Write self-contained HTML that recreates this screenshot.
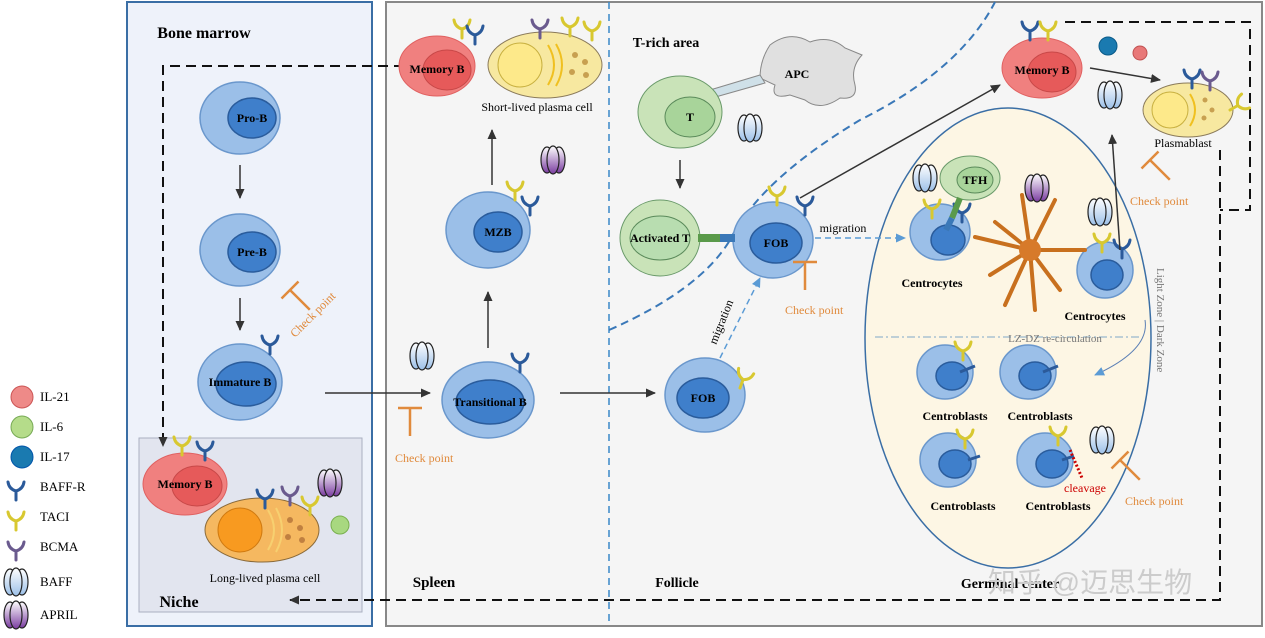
<!DOCTYPE html>
<html><head><meta charset="utf-8"><style>
body{margin:0;background:#fff}
svg{display:block;font-family:"Liberation Serif",serif}
.b{font-weight:bold;font-size:12px;text-anchor:middle}
.o{fill:#e08a3c;font-size:12px}
</style></head><body>
<svg width="1265" height="638" viewBox="0 0 1265 638">
<defs>
<marker id="ar" markerUnits="userSpaceOnUse" markerWidth="10" markerHeight="10" refX="9" refY="5" orient="auto"><path d="M0,0.5 L10,5 L0,9.5z" fill="#333"/></marker>
<marker id="ab" markerUnits="userSpaceOnUse" markerWidth="10" markerHeight="10" refX="9" refY="5" orient="auto"><path d="M0,0.5 L10,5 L0,9.5z" fill="#5b9bd5"/></marker>
<g id="rB"><path d="M0,0 V-9 M0,-9 Q-7,-11 -8,-18 M0,-9 Q7,-11 8,-18" stroke="#2b5a9a" stroke-width="3" fill="none" stroke-linecap="round"/></g>
<g id="rT"><path d="M0,0 V-9 M0,-9 Q-7,-11 -8,-18 M0,-9 Q7,-11 8,-18" stroke="#d8c830" stroke-width="3" fill="none" stroke-linecap="round"/></g>
<g id="rM"><path d="M0,0 V-9 M0,-9 Q-7,-11 -8,-18 M0,-9 Q7,-11 8,-18" stroke="#6a5a8e" stroke-width="3" fill="none" stroke-linecap="round"/></g>
<linearGradient id="gb" x1="0" y1="0" x2="0" y2="1"><stop offset="0" stop-color="#fff"/><stop offset="1" stop-color="#9cc0e8"/></linearGradient>
<linearGradient id="gp" x1="0" y1="0" x2="0" y2="1"><stop offset="0" stop-color="#fff"/><stop offset="1" stop-color="#7a3ca0"/></linearGradient>
<g id="baff" stroke="#222" stroke-width="1.2" fill="url(#gb)"><ellipse cx="-6" cy="0" rx="6" ry="13"/><ellipse cx="6" cy="0" rx="6" ry="13"/><ellipse cx="0" cy="0" rx="6" ry="14"/></g>
<g id="april" stroke="#222" stroke-width="1.2" fill="url(#gp)"><ellipse cx="-6" cy="0" rx="6" ry="13"/><ellipse cx="6" cy="0" rx="6" ry="13"/><ellipse cx="0" cy="0" rx="6" ry="14"/></g>
<g id="cp"><path d="M-12,0 H12 M0,0 V28" stroke="#e08a3c" stroke-width="2.5" fill="none"/></g>
</defs>

<rect x="127" y="2" width="245" height="624" fill="#eef2fa" stroke="#3a6ea5" stroke-width="2"/>
<rect x="139" y="438" width="223" height="174" fill="#e2e5ef" stroke="#aab0c0"/>
<rect x="386" y="2" width="876" height="624" fill="#f5f5f5" stroke="#888" stroke-width="2"/>
<line x1="609" y1="2" x2="609" y2="626" stroke="#3a88c8" stroke-width="1.5" stroke-dasharray="7,5"/>
<path d="M609,330 Q700,290 730,240 Q760,180 860,120 Q960,70 995,2" stroke="#3a78b8" stroke-width="2" stroke-dasharray="8,5" fill="none"/>
<ellipse cx="1008" cy="338" rx="143" ry="230" fill="#fdf6e4" stroke="#3a6ea5" stroke-width="1.5"/>
<line x1="875" y1="337" x2="1142" y2="337" stroke="#7fa8c8" stroke-dasharray="8,3,2,3"/>

<path d="M420,66 H163 V446" stroke="#111" stroke-width="2" stroke-dasharray="10,6" fill="none" marker-end="url(#ar)"/>
<path d="M1065,22 H1250 V210 H1220" stroke="#111" stroke-width="2" stroke-dasharray="10,6" fill="none"/>
<path d="M1220,150 V600 H290" stroke="#111" stroke-width="2" stroke-dasharray="10,6" fill="none" marker-end="url(#ar)"/>

<text x="204" y="38" style="font-weight:bold;font-size:16px;text-anchor:middle">Bone marrow</text>
<text x="179" y="607" style="font-weight:bold;font-size:16px;text-anchor:middle">Niche</text>
<text x="434" y="587" style="font-weight:bold;font-size:15px;text-anchor:middle">Spleen</text>
<text x="677" y="587" style="font-weight:bold;font-size:14px;text-anchor:middle">Follicle</text>
<text x="666" y="47" style="font-weight:bold;font-size:14px;text-anchor:middle">T-rich area</text>
<text x="1010" y="588" style="font-weight:bold;font-size:14px;text-anchor:middle">Germinal center</text>
<text x="1090" y="592" style="font-size:28px;fill:#ccc;text-anchor:middle;font-family:'Liberation Sans','Noto Sans CJK SC',sans-serif">知乎 @迈思生物</text>

<g fill="#9bbfe8" stroke="#6a97cc" stroke-width="1.5">
<ellipse cx="240" cy="118" rx="40" ry="36"/><ellipse cx="240" cy="250" rx="40" ry="36"/><ellipse cx="240" cy="382" rx="42" ry="38"/>
<ellipse cx="488" cy="400" rx="46" ry="38"/><ellipse cx="488" cy="230" rx="42" ry="38"/>
<ellipse cx="705" cy="395" rx="40" ry="37"/><ellipse cx="773" cy="240" rx="40" ry="38"/>
<ellipse cx="940" cy="232" rx="30" ry="28"/><ellipse cx="1105" cy="270" rx="28" ry="28"/>
<ellipse cx="945" cy="372" rx="28" ry="27"/><ellipse cx="1028" cy="372" rx="28" ry="27"/>
<ellipse cx="948" cy="460" rx="28" ry="27"/><ellipse cx="1045" cy="460" rx="28" ry="27"/>
</g>
<g fill="#3f7fcb" stroke="#2a5c9c" stroke-width="1.5">
<ellipse cx="252" cy="118" rx="24" ry="20"/><ellipse cx="252" cy="252" rx="24" ry="20"/><ellipse cx="246" cy="384" rx="30" ry="22"/>
<ellipse cx="490" cy="402" rx="34" ry="22"/><ellipse cx="498" cy="232" rx="24" ry="20"/>
<ellipse cx="703" cy="398" rx="26" ry="20"/><ellipse cx="776" cy="243" rx="26" ry="20"/>
<ellipse cx="948" cy="240" rx="17" ry="15"/><ellipse cx="1107" cy="275" rx="16" ry="15"/>
<ellipse cx="952" cy="376" rx="16" ry="14"/><ellipse cx="1035" cy="376" rx="16" ry="14"/>
<ellipse cx="955" cy="464" rx="16" ry="14"/><ellipse cx="1052" cy="464" rx="16" ry="14"/>
</g>
<g class="b">
<text x="252" y="122">Pro-B</text><text x="252" y="256">Pre-B</text><text x="240" y="386">Immature B</text>
<text x="490" y="406">Transitional B</text><text x="498" y="236">MZB</text><text x="703" y="402">FOB</text><text x="776" y="247">FOB</text>
<text x="932" y="287">Centrocytes</text><text x="1095" y="320">Centrocytes</text>
<text x="955" y="420">Centroblasts</text><text x="1040" y="420">Centroblasts</text>
<text x="963" y="510">Centroblasts</text><text x="1058" y="510">Centroblasts</text>
</g>
<use href="#rB" x="270" y="354"/><use href="#rT" x="515" y="200"/><use href="#rB" x="530" y="215"/>
<use href="#rB" x="520" y="372"/><use href="#rT" x="740" y="388" transform="rotate(20 740 388)"/>
<use href="#rT" x="777" y="205"/><use href="#rB" x="805" y="215"/>
<use href="#rT" x="932" y="218"/><use href="#rB" x="962" y="222"/>
<use href="#rT" x="1102" y="252"/><use href="#rB" x="1122" y="258"/>
<use href="#rT" x="963" y="360"/><use href="#rT" x="965" y="448"/><use href="#rT" x="1058" y="445"/>
<path d="M960,372 L975,366 M1043,372 L1058,366 M968,460 L980,456 M1062,460 L1074,456" stroke="#2b5a9a" stroke-width="3"/>
<path d="M1070,450 L1082,478" stroke="#c00" stroke-width="3" stroke-dasharray="2,2"/>
<text x="1085" y="492" style="fill:#c00;font-size:12px;text-anchor:middle">cleavage</text>

<g stroke="#333" stroke-width="1.5" marker-end="url(#ar)">
<line x1="240" y1="165" x2="240" y2="198"/><line x1="240" y1="298" x2="240" y2="330"/>
<line x1="325" y1="393" x2="430" y2="393"/><line x1="488" y1="348" x2="488" y2="292"/>
<line x1="492" y1="185" x2="492" y2="130"/><line x1="560" y1="393" x2="655" y2="393"/>
<line x1="680" y1="160" x2="680" y2="188"/><line x1="800" y1="198" x2="1000" y2="85"/>
<line x1="1090" y1="68" x2="1160" y2="80"/><line x1="1120" y1="250" x2="1112" y2="135"/>
</g>
<line x1="815" y1="238" x2="905" y2="238" stroke="#5b9bd5" stroke-width="1.5" stroke-dasharray="6,4" marker-end="url(#ab)"/>
<line x1="720" y1="358" x2="760" y2="278" stroke="#5b9bd5" stroke-width="1.5" stroke-dasharray="6,4" marker-end="url(#ab)"/>
<path d="M1145,320 Q1150,350 1095,375" stroke="#5b7fb5" fill="none" marker-end="url(#ab)"/>
<text x="843" y="232" style="font-size:12px;text-anchor:middle">migration</text>
<text x="0" y="0" transform="translate(716,345) rotate(-68)" style="font-size:12px">migration</text>
<text x="1055" y="342" style="font-size:11px;fill:#777;text-anchor:middle">LZ-DZ re-circulation</text>
<text x="0" y="0" transform="translate(1157,268) rotate(90)" style="font-size:11px;fill:#777">Light Zone | Dark Zone</text>

<use href="#cp" transform="translate(290,290) rotate(-45)"/>
<text transform="translate(295,338) rotate(-45)" class="o">Check point</text>
<use href="#cp" transform="translate(410,408)"/><text x="395" y="462" class="o">Check point</text>
<use href="#cp" transform="translate(805,262)"/><text x="785" y="314" class="o">Check point</text>
<use href="#cp" transform="translate(1150,160) rotate(-45)"/><text x="1130" y="205" class="o">Check point</text>
<use href="#cp" transform="translate(1120,460) rotate(-45)"/><text x="1125" y="505" class="o">Check point</text>

<ellipse cx="437" cy="66" rx="38" ry="30" fill="#f0807f" stroke="#e06060"/><ellipse cx="447" cy="70" rx="24" ry="20" fill="#e65a5a" stroke="#c84848"/>
<text x="437" y="73" class="b">Memory B</text>
<use href="#rT" x="462" y="38"/><use href="#rB" x="475" y="44"/>
<ellipse cx="1042" cy="68" rx="40" ry="30" fill="#f0807f" stroke="#e06060"/><ellipse cx="1052" cy="72" rx="24" ry="20" fill="#e65a5a" stroke="#c84848"/>
<text x="1042" y="74" class="b">Memory B</text>
<use href="#rB" x="1030" y="40"/><use href="#rT" x="1048" y="40"/>
<ellipse cx="185" cy="484" rx="42" ry="31" fill="#f0807f" stroke="#e06060"/><ellipse cx="197" cy="486" rx="25" ry="20" fill="#e65a5a" stroke="#c84848"/>
<text x="185" y="488" class="b">Memory B</text>
<use href="#rT" x="182" y="455"/><use href="#rB" x="205" y="460"/>

<ellipse cx="545" cy="65" rx="57" ry="33" fill="#f7e8a0" stroke="#8a7a5a"/><circle cx="520" cy="65" r="22" fill="#fde98a" stroke="#c8b040"/>
<path d="M548,45 Q560,65 548,85 M556,44 Q568,65 556,86" stroke="#f0c020" stroke-width="2" fill="none"/>
<g fill="#c8a050"><circle cx="575" cy="55" r="3"/><circle cx="585" cy="62" r="3"/><circle cx="572" cy="72" r="3"/><circle cx="586" cy="75" r="3"/></g>
<use href="#rM" x="540" y="38"/><use href="#rT" x="570" y="36"/><use href="#rT" x="592" y="40"/>
<text x="537" y="111" style="font-size:12px;text-anchor:middle">Short-lived plasma cell</text>

<ellipse cx="1188" cy="110" rx="45" ry="27" fill="#f7e8a0" stroke="#8a7a5a"/><circle cx="1170" cy="110" r="18" fill="#fde98a" stroke="#c8b040"/>
<path d="M1190,94 Q1200,110 1190,126" stroke="#f0c020" stroke-width="2" fill="none"/>
<g fill="#c8a050"><circle cx="1205" cy="100" r="2.5"/><circle cx="1212" cy="110" r="2.5"/><circle cx="1204" cy="118" r="2.5"/></g>
<use href="#rB" x="1192" y="88"/><use href="#rM" x="1210" y="90"/><use href="#rT" x="1230" y="110" transform="rotate(60 1230 110)"/>
<text x="1183" y="147" style="font-size:12px;text-anchor:middle">Plasmablast</text>

<ellipse cx="262" cy="530" rx="57" ry="32" fill="#f5b860" stroke="#8a6a3a"/><circle cx="240" cy="530" r="22" fill="#f89a20" stroke="#d07a10"/>
<path d="M268,510 Q280,530 268,550 M276,508 Q288,530 276,552" stroke="#f7d070" stroke-width="2" fill="none"/>
<g fill="#c08040"><circle cx="290" cy="520" r="3"/><circle cx="300" cy="528" r="3"/><circle cx="288" cy="537" r="3"/><circle cx="302" cy="540" r="3"/></g>
<use href="#rB" x="265" y="508"/><use href="#rM" x="290" y="505"/><use href="#rT" x="310" y="515"/>
<circle cx="340" cy="525" r="9" fill="#a8d880" stroke="#7ab050"/>
<use href="#april" x="330" y="483"/>
<text x="265" y="582" style="font-size:12px;text-anchor:middle">Long-lived plasma cell</text>

<path d="M770,45 Q790,30 810,42 Q830,35 845,48 L862,55 Q850,68 855,85 Q858,100 840,98 Q820,112 805,100 L790,95 Q770,100 775,85 L760,78 Q760,60 770,45z" fill="#e0e0e0" stroke="#888"/>
<text x="797" y="78" class="b">APC</text>
<path d="M710,90 L760,75 L765,83 L712,98z" fill="#cfe0e8" stroke="#888"/>
<ellipse cx="680" cy="112" rx="42" ry="36" fill="#c9e3b8" stroke="#6a9a6a"/><ellipse cx="690" cy="117" rx="25" ry="20" fill="#a8d49a" stroke="#5a8a5a"/>
<text x="690" y="121" class="b">T</text>
<ellipse cx="660" cy="238" rx="40" ry="38" fill="#c9e3b8" stroke="#6a9a6a"/><ellipse cx="660" cy="238" rx="30" ry="22" fill="#b8ddb0" stroke="#5a8a5a"/>
<text x="660" y="242" class="b">Activated T</text>
<rect x="698" y="234" width="22" height="8" fill="#5a9a4a"/><rect x="720" y="234" width="15" height="8" fill="#3a78b8"/>
<ellipse cx="970" cy="178" rx="30" ry="22" fill="#c9e3b8" stroke="#6a9a6a"/><ellipse cx="975" cy="180" rx="18" ry="13" fill="#a8d49a" stroke="#5a8a5a"/>
<text x="975" y="184" class="b">TFH</text>
<path d="M960,198 L952,218" stroke="#5a9a4a" stroke-width="6"/><path d="M952,218 L946,230" stroke="#3a78b8" stroke-width="6"/>
<g stroke="#c8701e" stroke-width="4" stroke-linecap="round">
<path d="M1030,250 L975,237 M1030,250 L990,275 M1030,250 L1005,305 M1030,250 L1035,310 M1030,250 L1060,290 M1030,250 L1085,250 M1030,250 L1055,200 M1030,250 L1022,195 M1030,250 L995,222"/>
</g>
<circle cx="1030" cy="250" r="11" fill="#d77a2a"/>

<use href="#baff" x="422" y="356"/><use href="#april" x="553" y="160"/><use href="#baff" x="750" y="128"/>
<use href="#baff" x="925" y="178"/><use href="#april" x="1037" y="188"/><use href="#baff" x="1100" y="212"/>
<use href="#baff" x="1110" y="95"/><use href="#baff" x="1102" y="440"/>
<circle cx="1108" cy="46" r="9" fill="#1a7ab0" stroke="#0a5a88"/><circle cx="1140" cy="53" r="7" fill="#e87878" stroke="#c05050"/>

<circle cx="22" cy="397" r="11" fill="#ee8a88" stroke="#c55"/><circle cx="22" cy="427" r="11" fill="#b5dc8a" stroke="#7a5"/><circle cx="22" cy="457" r="11" fill="#1a7ab0" stroke="#05a"/>
<use href="#rB" x="16" y="500"/><use href="#rT" x="16" y="530"/><use href="#rM" x="16" y="560"/>
<use href="#baff" x="16" y="582"/><use href="#april" x="16" y="615"/>
<g style="font-size:13px"><text x="40" y="401">IL-21</text><text x="40" y="431">IL-6</text><text x="40" y="461">IL-17</text>
<text x="40" y="491">BAFF-R</text><text x="40" y="521">TACI</text><text x="40" y="551">BCMA</text><text x="40" y="586">BAFF</text><text x="40" y="619">APRIL</text></g>
</svg>
</body></html>
